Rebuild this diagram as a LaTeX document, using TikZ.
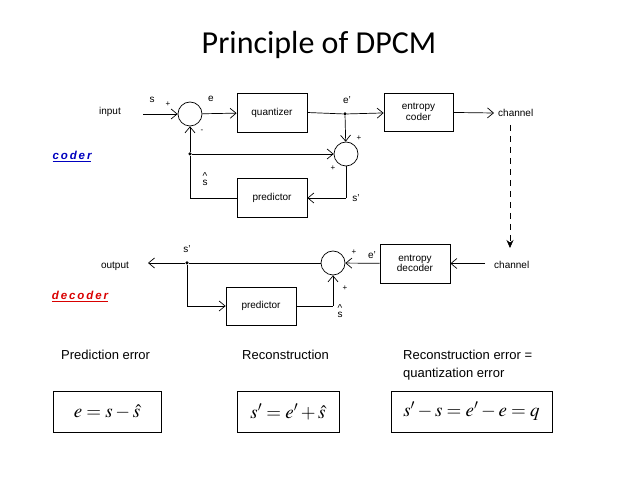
\documentclass[tikz,border=0pt]{standalone}
\usepackage{mathptmx}
\usepackage{fontspec}
\setmainfont{Liberation Sans}
\newfontfamily\titlefont{Carlito}
\usetikzlibrary{arrows.meta}
\begin{document}
\begin{tikzpicture}[x=1pt,y=-1pt,
  blk/.style={draw,line width=0.7pt,font=\fontsize{10}{10.5}\selectfont,align=center,inner sep=0pt},
  sum/.style={draw,circle,line width=0.7pt,minimum size=24pt,inner sep=0pt},
  lab/.style={font=\fontsize{10}{10}\selectfont,inner sep=0pt},
  pm/.style={font=\fontsize{8}{8}\selectfont,inner sep=0pt},
  ar/.style={line width=0.7pt,-{Straight Barb[length=6pt,width=10pt]}},
  ln/.style={line width=0.7pt},
  dot/.style={circle,fill,inner sep=0pt,minimum size=3.5pt},
  txt/.style={font=\fontsize{13}{15}\selectfont,inner sep=0pt,anchor=west},
  eq/.style={draw,line width=0.7pt,minimum height=41pt,font=\fontsize{19}{21}\selectfont}]
\useasboundingbox (0,0) rectangle (638,478);
\node[font=\titlefont\fontsize{32}{36}\selectfont] (title) at (319,45) {Principle of DPCM};
% coder
\node[lab] (input) at (110,112) {input};
\coordinate (in) at (143,114);
\node[sum] (s1) at (190,114) {};
\node[blk,minimum width=70pt,minimum height=39pt] (q) at (272,112.5) {quantizer};
\node[dot] (j1) at (345,114) {};
\node[blk,minimum width=69pt,minimum height=38pt] (ec) at (418.5,112) {entropy\\coder};
\node[lab,anchor=west] (ch1) at (498,113) {channel};
\coordinate (chout) at (494,113);
\node[sum] (s2) at (346,154) {};
\node[dot] (j2) at (190,154) {};
\node[blk,minimum width=70pt,minimum height=39pt] (p1) at (272,198) {predictor};
\coordinate (c1) at (346,198);
\coordinate (c2) at (190,198);
\draw[ar] (in) -- (s1);
\draw[ar] (s1) -- (q);
\draw[ln] (q.east) -- (j1);
\draw[ar] (j1) -- (ec);
\draw[ar] (ec) -- (chout);
\draw[ar] (j1) -- (s2);
\draw[ar] (j2) -- (s2);
\draw[ln] (s2) -- (c1);
\draw[ar] (c1) -- (p1);
\draw[ln] (p1.west) -- (c2) -- (j2);
\draw[ar] (j2) -- (s1);
\node[lab] at (152,100) {s};
\node[pm] at (168,104) {+};
\node[lab] at (211,99) {e};
\node[pm] at (202,131) {-};
\node[lab] at (347,100) {e'};
\node[pm] at (359,138) {+};
\node[pm] at (333,168) {+};
\node[lab,align=center] at (205,179) {\^{}\\[-4pt]s};
\node[lab] at (356,198) {s'};
% channel
\coordinate (ct) at (510,125);
\coordinate (cb) at (510,248);
\draw[line width=0.7pt,dash pattern=on 6pt off 5pt,-{Stealth[length=8pt,width=7pt]}] (ct) -- (cb);
% decoder
\node[lab] (output) at (115,266) {output};
\coordinate (out) at (148,263);
\node[dot] (j3) at (187,263) {};
\node[sum] (s3) at (333,263) {};
\node[blk,minimum width=70pt,minimum height=39pt] (ed) at (415,263.5) {entropy\\decoder};
\node[lab,anchor=west] (ch2) at (494,265) {channel};
\coordinate (chin) at (485,263.5);
\node[blk,minimum width=70pt,minimum height=38pt] (p2) at (261,306) {predictor};
\coordinate (d1) at (187,306);
\coordinate (d2) at (333,306);
\draw[ar] (chin) -- (ed);
\draw[ar] (ed) -- (s3);
\draw[ln] (s3) -- (j3);
\draw[ar] (j3) -- (out);
\draw[ln] (j3) -- (d1);
\draw[ar] (d1) -- (p2);
\draw[ln] (p2.east) -- (d2);
\draw[ar] (d2) -- (s3);
\node[lab] at (187,249) {s'};
\node[pm] at (354,252) {+};
\node[lab] at (372,255) {e'};
\node[pm] at (345,288) {+};
\node[lab,align=center] at (340,311) {\^{}\\[-4pt]s};
\node[font=\bfseries\itshape\fontsize{11.5}{13}\selectfont,text=blue!75!black] (coder) at (72,157) {\underline{c\,o\,d\,e\,r}};
\node[font=\bfseries\itshape\fontsize{11.5}{13}\selectfont,text=red!85!black] (decoder) at (80,297) {\underline{d\,e\,c\,o\,d\,e\,r}};
% equations
\node[txt] at (61,355) {Prediction error};
\node[txt] at (242,355) {Reconstruction};
\node[txt] at (403,355) {Reconstruction error =};
\node[txt] at (403,374) {quantization error};
\node[eq,minimum width=108pt] (b1) at (107,411.5) {$e = s - \hat{s}$};
\node[eq,minimum width=102pt] (b2) at (288,411.5) {$s' = e' + \hat{s}$};
\node[eq,minimum width=161pt] (b3) at (471.5,411.5) {$s' - s = e' - e = q$};
\end{tikzpicture}
\end{document}
